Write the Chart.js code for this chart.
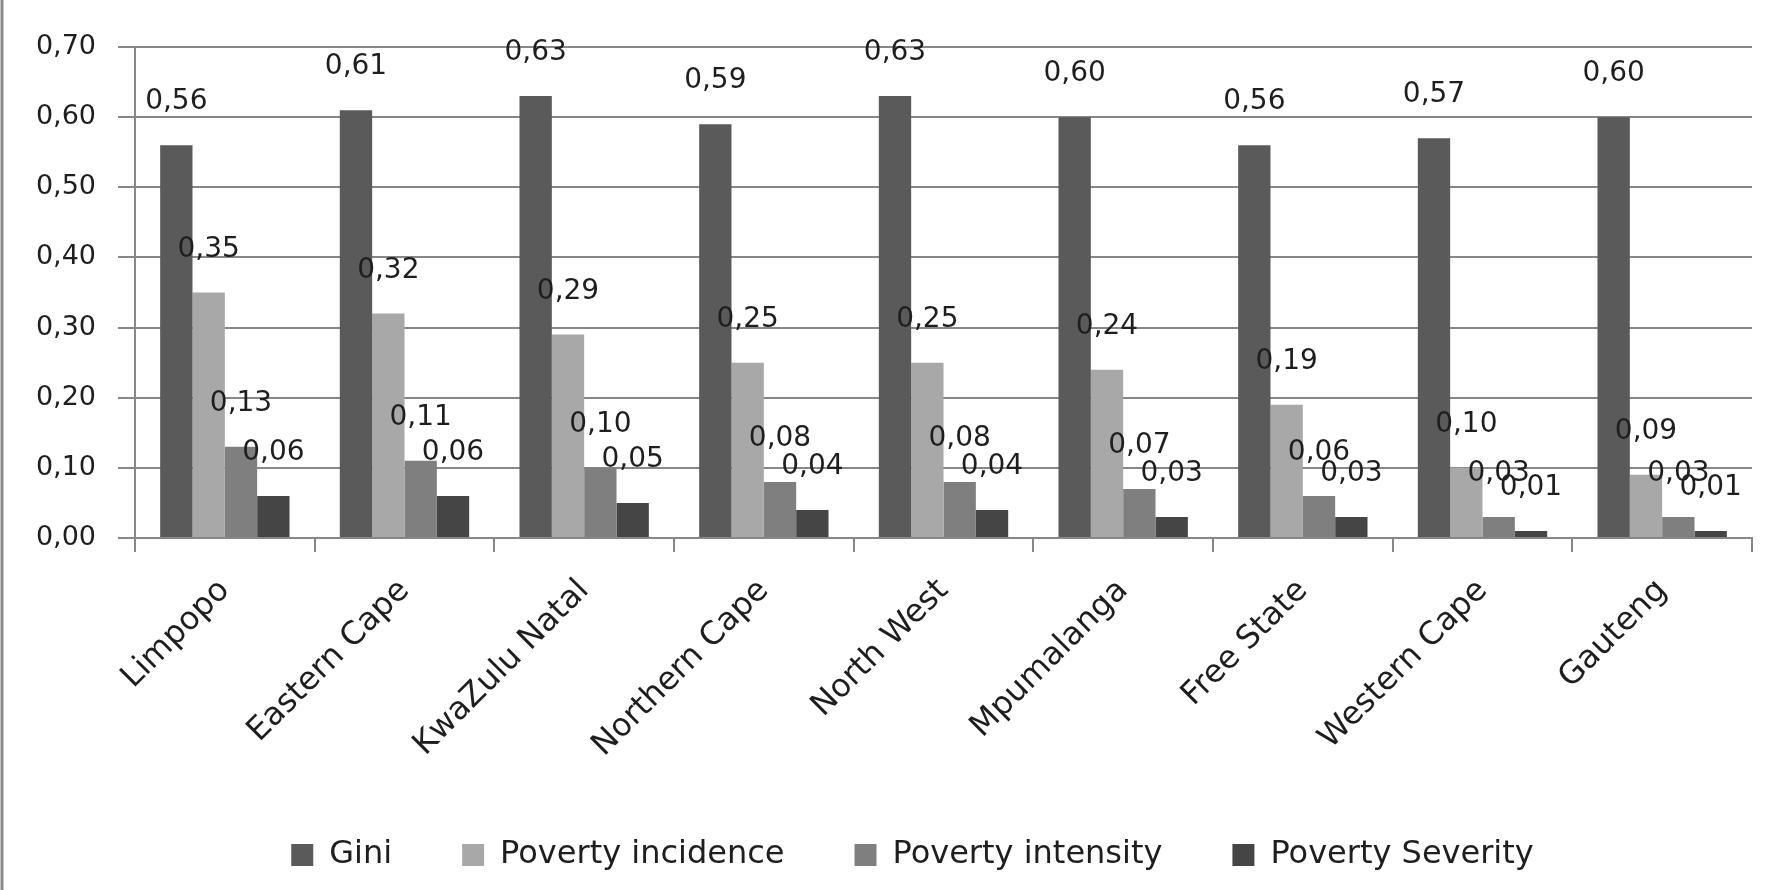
<!DOCTYPE html>
<html>
<head>
<meta charset="utf-8">
<script src="https://cdn.jsdelivr.net/npm/chart.js@4"></script>
<style>
  html, body { margin: 0; padding: 0; background: #fff; }
  #wrap { width: 1791px; height: 890px; position: relative; }
</style>
</head>
<body>
<div id="wrap"><canvas id="c"></canvas></div>
<script>
const categories = ['Limpopo', 'Eastern Cape', 'KwaZulu Natal', 'Northern Cape', 'North West', 'Mpumalanga', 'Free State', 'Western Cape', 'Gauteng'];
const gini = [0.56, 0.61, 0.63, 0.59, 0.63, 0.60, 0.56, 0.57, 0.60];
const povertyIncidence = [0.35, 0.32, 0.29, 0.25, 0.25, 0.24, 0.19, 0.10, 0.09];
const povertyIntensity = [0.13, 0.11, 0.10, 0.08, 0.08, 0.07, 0.06, 0.03, 0.03];
const povertySeverity = [0.06, 0.06, 0.05, 0.04, 0.04, 0.03, 0.03, 0.01, 0.01];
const yTickLabels = ['0,00', '0,10', '0,20', '0,30', '0,40', '0,50', '0,60', '0,70'];

const FONT = "'DejaVu Sans', sans-serif";
const GRID = '#878787';
const TEXT = '#1e1e1e';

const fmt = v => v.toFixed(2).replace('.', ',');

const bgPlugin = {
  id: 'bg',
  beforeDraw(chart) {
    const ctx = chart.ctx;
    ctx.save();
    ctx.fillStyle = '#ffffff';
    ctx.fillRect(0, 0, chart.width, chart.height);
    ctx.strokeStyle = '#8a8a8a';
    ctx.lineWidth = 3;
    ctx.beginPath();
    ctx.moveTo(2, 0);
    ctx.lineTo(2, chart.height);
    ctx.stroke();
    ctx.restore();
  }
};

const labelPlugin = {
  id: 'barLabels',
  afterDatasetsDraw(chart) {
    const ctx = chart.ctx;
    ctx.save();
    ctx.font = '28px ' + FONT;
    ctx.fillStyle = TEXT;
    ctx.textAlign = 'center';
    ctx.textBaseline = 'middle';
    chart.data.datasets.forEach((ds, di) => {
      const meta = chart.getDatasetMeta(di);
      meta.data.forEach((bar, i) => {
        ctx.fillText(fmt(ds.data[i]), bar.x, bar.y - 43);
      });
    });
    ctx.restore();
  }
};

new Chart(document.getElementById('c'), {
  type: 'bar',
  data: {
    labels: categories,
    datasets: [
      { label: 'Gini', data: gini, backgroundColor: '#5a5a5a' },
      { label: 'Poverty incidence', data: povertyIncidence, backgroundColor: '#a8a8a8' },
      { label: 'Poverty intensity', data: povertyIntensity, backgroundColor: '#7f7f7f' },
      { label: 'Poverty Severity', data: povertySeverity, backgroundColor: '#454545' }
    ]
  },
  options: {
    responsive: true,
    maintainAspectRatio: false,
    animation: false,
    devicePixelRatio: 1,
    datasets: { bar: { categoryPercentage: 0.72, barPercentage: 1.0 } },
    layout: { padding: { left: 34, right: 0, top: 47, bottom: 9 } },
    plugins: {
      legend: {
        position: 'bottom',
        labels: {
          font: { family: FONT, size: 32 },
          color: TEXT,
          boxWidth: 22,
          boxHeight: 22,
          padding: 70
        }
      },
      tooltip: { enabled: false }
    },
    scales: {
      x: {
        grid: { display: true, drawOnChartArea: false, drawTicks: true, tickLength: 14, color: GRID, lineWidth: 2, offset: true },
        border: { display: true, color: GRID, width: 2 },
        ticks: {
          font: { family: FONT, size: 32 },
          color: TEXT,
          maxRotation: 45,
          minRotation: 45,
          padding: 20,
          autoSkip: false
        },
        afterFit(scale) { scale.height = 231; }
      },
      y: {
        min: 0,
        max: 0.7,
        ticks: {
          stepSize: 0.1,
          font: { family: FONT, size: 27 },
          color: TEXT,
          padding: 22,
          callback: v => yTickLabels[Math.round(v * 10)]
        },
        grid: { color: GRID, lineWidth: 2, tickLength: 17 },
        border: { display: true, color: GRID, width: 2 },
        afterFit(scale) { scale.width = 101; }
      },
      y2: {
        position: 'right',
        display: true,
        grid: { display: false, drawTicks: false },
        border: { display: false },
        ticks: { display: false },
        afterFit(scale) { scale.width = 39; }
      }
    }
  },
  plugins: [bgPlugin, labelPlugin]
});
</script>
</body>
</html>
